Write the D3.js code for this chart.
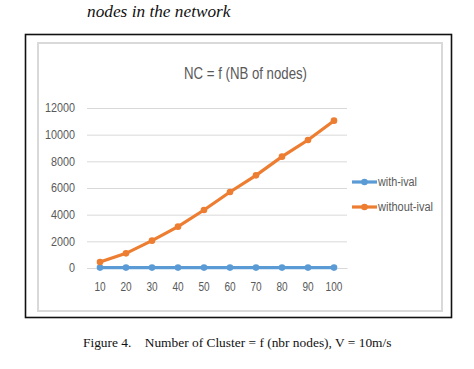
<!DOCTYPE html>
<html><head><meta charset="utf-8">
<script src="https://cdn.jsdelivr.net/npm/d3@7"></script>
<style>body{margin:0;background:#fff}svg{display:block}</style>
</head><body>
<svg id="c" width="474" height="369"></svg>
<script>
const categories = [10,20,30,40,50,60,70,80,90,100];
const withIval = [30,30,30,30,30,30,30,30,30,30];
const withoutIval = [450,1100,2050,3100,4350,5700,6950,8350,9600,11050];
const yTicks = [0,2000,4000,6000,8000,10000,12000];
const seriesNames = ["with-ival","without-ival"];
const colors = ["#5b9bd5","#ed7d31"];

const svg = d3.select("#c");
// header text
svg.append("text").attr("x",87).attr("y",17).attr("font-family","Liberation Serif").attr("font-style","italic")
  .attr("font-size",17.3).attr("fill","#111").text("nodes in the network");
// outer frame
svg.append("rect").attr("x",25.5).attr("y",34.5).attr("width",426).attr("height",283).attr("fill","#fff").attr("stroke","#111").attr("stroke-width",1.6);
svg.append("rect").attr("x",38).attr("y",43).attr("width",404).attr("height",268).attr("fill","#fff").attr("stroke","#d9d9d9").attr("stroke-width",2);

const x = d3.scaleBand().domain(categories).range([87,347]);
const y = d3.scaleLinear().domain([0,12000]).range([268,108]);
const font = "Liberation Sans, sans-serif";
const narrow = (sel, per) => sel.attr("textLength", function(){ return this.textContent.length*per; }).attr("lengthAdjust","spacingAndGlyphs");

// gridlines
const yAxis = d3.axisLeft(y).tickValues(yTicks).tickFormat(d3.format("d")).tickSize(-260).tickPadding(12);
const gy = svg.append("g").attr("transform","translate(87,0)").call(yAxis);
gy.select(".domain").remove();
gy.selectAll("line").attr("stroke","#d9d9d9");
gy.selectAll("text").attr("font-family",font).attr("font-size",12).attr("fill","#595959").call(narrow,6);

const xAxis = d3.axisBottom(x).tickSize(0).tickPadding(14);
const gx = svg.append("g").attr("transform","translate(0,268)").call(xAxis);
gx.select(".domain").attr("stroke","#d9d9d9");
gx.selectAll("text").attr("font-family",font).attr("font-size",13).attr("fill","#595959").call(narrow,5.6);

const line = d3.line().x((d,i)=>x(categories[i])+x.bandwidth()/2).y(d=>y(d));
[withIval, withoutIval].forEach((s,k)=>{
  svg.append("path").datum(s).attr("d",line).attr("fill","none").attr("stroke",colors[k]).attr("stroke-width",3.2);
  svg.selectAll(null).data(s).enter().append("circle")
    .attr("cx",(d,i)=>x(categories[i])+x.bandwidth()/2).attr("cy",d=>y(d)).attr("r",3.3).attr("fill",colors[k]);
});

// title
svg.append("text").attr("x",184).attr("y",79).attr("font-family",font)
  .attr("font-size",17).attr("fill","#595959").attr("textLength",123).attr("lengthAdjust","spacingAndGlyphs").text("NC = f (NB of nodes)");

// legend
const legW = [39,55];
seriesNames.forEach((n,k)=>{
  const ly = 182 + k*25;
  svg.append("line").attr("x1",352).attr("x2",377).attr("y1",ly).attr("y2",ly).attr("stroke",colors[k]).attr("stroke-width",3.2);
  svg.append("circle").attr("cx",364.5).attr("cy",ly).attr("r",3.3).attr("fill",colors[k]);
  svg.append("text").attr("x",378).attr("y",ly+4).attr("font-family",font).attr("font-size",12.5).attr("fill","#595959")
    .attr("textLength",legW[k]).attr("lengthAdjust","spacingAndGlyphs").text(n);
});

// caption
svg.append("text").attr("x",83).attr("y",347).attr("font-family","Liberation Serif").attr("font-size",13.4)
  .attr("fill","#111").attr("xml:space","preserve").text("Figure 4.    Number of Cluster = f (nbr nodes), V = 10m/s");
</script>
</body></html>
